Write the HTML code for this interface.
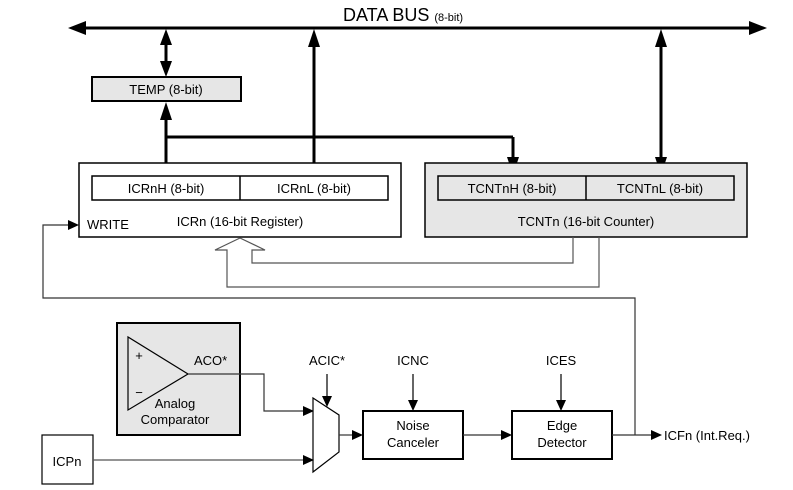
<!DOCTYPE html>
<html><head><meta charset="utf-8"><style>
html,body{margin:0;padding:0;background:#fff;}
svg{display:block;font-family:"Liberation Sans",sans-serif;}
</style></head><body>
<svg width="793" height="490" viewBox="0 0 793 490" xmlns="http://www.w3.org/2000/svg">
<defs>
<marker id="a" markerWidth="10" markerHeight="8" refX="10" refY="4" orient="auto" markerUnits="userSpaceOnUse"><path d="M0,0 L10,4 L0,8 Z" fill="#000"/></marker>
</defs>
<!-- data bus -->
<text x="343" y="21" font-size="18">DATA BUS <tspan font-size="11">(8-bit)</tspan></text>
<line x1="80" y1="28" x2="755" y2="28" stroke="#000" stroke-width="3"/>
<path d="M68,28 L86,21 L86,35 Z"/>
<path d="M767,28 L749,21 L749,35 Z"/>
<!-- TEMP double arrow -->
<line x1="166" y1="40" x2="166" y2="65" stroke="#000" stroke-width="3"/>
<path d="M166,29 L160,45 L172,45 Z"/>
<path d="M166,77 L160,61 L172,61 Z"/>
<rect x="92" y="77" width="149" height="24" fill="#e6e6e6" stroke="#000" stroke-width="2"/>
<text x="166" y="94" font-size="13" text-anchor="middle">TEMP (8-bit)</text>
<!-- ICRnH up to TEMP -->
<line x1="166" y1="176" x2="166" y2="115" stroke="#000" stroke-width="3"/>
<path d="M166,102 L160,120 L172,120 Z"/>
<line x1="166" y1="137" x2="513" y2="137" stroke="#000" stroke-width="3"/>
<line x1="513" y1="137" x2="513" y2="160" stroke="#000" stroke-width="3"/>
<path d="M513,175 L507,157 L519,157 Z"/>
<!-- ICRnL up to bus -->
<line x1="314" y1="176" x2="314" y2="45" stroke="#000" stroke-width="3"/>
<path d="M314,29 L308,47 L320,47 Z"/>
<!-- TCNTnL double -->
<line x1="661" y1="42" x2="661" y2="160" stroke="#000" stroke-width="3"/>
<path d="M661,29 L655,47 L667,47 Z"/>
<path d="M661,175 L655,157 L667,157 Z"/>
<!-- ICRn box -->
<rect x="79" y="163" width="322" height="74" fill="#fff" stroke="#000" stroke-width="1.5"/>
<rect x="92" y="176" width="296" height="24" fill="#fff" stroke="#000" stroke-width="1.5"/>
<line x1="240" y1="176" x2="240" y2="200" stroke="#000" stroke-width="1.5"/>
<text x="166" y="193" font-size="13" text-anchor="middle">ICRnH (8-bit)</text>
<text x="314" y="193" font-size="13" text-anchor="middle">ICRnL  (8-bit)</text>
<text x="87" y="229" font-size="13">WRITE</text>
<text x="240" y="226" font-size="13" text-anchor="middle">ICRn (16-bit Register)</text>
<!-- TCNTn box -->
<rect x="425" y="163" width="322" height="74" fill="#e6e6e6" stroke="#000" stroke-width="1.5"/>
<rect x="438" y="176" width="296" height="24" fill="#e6e6e6" stroke="#000" stroke-width="1.5"/>
<line x1="586" y1="176" x2="586" y2="200" stroke="#000" stroke-width="1.5"/>
<text x="512" y="193" font-size="13" text-anchor="middle">TCNTnH (8-bit)</text>
<text x="660" y="193" font-size="13" text-anchor="middle">TCNTnL  (8-bit)</text>
<text x="586" y="226" font-size="13" text-anchor="middle">TCNTn (16-bit Counter)</text>
<!-- hollow arrow -->
<path d="M573,237 L573,263 L252,263 L252,250 L265,250 L240,238 L215,250 L227,250 L227,287 L599,287 L599,237" fill="none" stroke="#555" stroke-width="1.2"/>
<!-- write feedback -->
<path d="M635,435 L635,298 L43,298 L43,225 L70,225" fill="none" stroke="#333" stroke-width="1.2"/>
<path d="M79,225 L68,220 L68,230 Z"/>
<!-- analog comparator -->
<rect x="117" y="323" width="123" height="112" fill="#e6e6e6" stroke="#000" stroke-width="2"/>
<path d="M128,337 L128,410 L188,374 Z" fill="#e6e6e6" stroke="#000" stroke-width="1.2"/>
<text x="139" y="360" font-size="13" text-anchor="middle">+</text>
<text x="139" y="397" font-size="13" text-anchor="middle">−</text>
<text x="194" y="365" font-size="13">ACO*</text>
<text x="175" y="408" font-size="13" text-anchor="middle">Analog</text>
<text x="175" y="424" font-size="13" text-anchor="middle">Comparator</text>
<path d="M188,374 L264,374 L264,411 L304,411" fill="none" stroke="#333" stroke-width="1.2"/>
<path d="M314,411 L303,406 L303,416 Z"/>
<!-- mux -->
<path d="M313,398 L339,415 L339,452 L313,472 Z" fill="#fff" stroke="#000" stroke-width="1.2"/>
<text x="327" y="365" font-size="13" text-anchor="middle">ACIC*</text>
<line x1="327" y1="374" x2="327" y2="398" stroke="#000" stroke-width="1.2"/>
<path d="M327,407 L322,396 L332,396 Z"/>
<!-- ICPn -->
<rect x="42" y="435" width="51" height="49" fill="#fff" stroke="#000" stroke-width="1.2"/>
<text x="67" y="466" font-size="13" text-anchor="middle">ICPn</text>
<line x1="93" y1="460" x2="304" y2="460" stroke="#555" stroke-width="1.2"/>
<path d="M314,460 L303,455 L303,465 Z"/>
<!-- mux out -->
<line x1="339" y1="435" x2="354" y2="435" stroke="#333" stroke-width="1.2"/>
<path d="M363,435 L352,430 L352,440 Z"/>
<!-- noise canceler -->
<rect x="363" y="411" width="100" height="48" fill="#fff" stroke="#000" stroke-width="2"/>
<text x="413" y="430" font-size="13" text-anchor="middle">Noise</text>
<text x="413" y="447" font-size="13" text-anchor="middle">Canceler</text>
<text x="413" y="365" font-size="13" text-anchor="middle">ICNC</text>
<line x1="413" y1="374" x2="413" y2="402" stroke="#000" stroke-width="1.2"/>
<path d="M413,411 L408,400 L418,400 Z"/>
<line x1="463" y1="435" x2="503" y2="435" stroke="#333" stroke-width="1.2"/>
<path d="M512,435 L501,430 L501,440 Z"/>
<!-- edge detector -->
<rect x="512" y="411" width="100" height="48" fill="#fff" stroke="#000" stroke-width="2"/>
<text x="562" y="430" font-size="13" text-anchor="middle">Edge</text>
<text x="562" y="447" font-size="13" text-anchor="middle">Detector</text>
<text x="561" y="365" font-size="13" text-anchor="middle">ICES</text>
<line x1="561" y1="374" x2="561" y2="402" stroke="#000" stroke-width="1.2"/>
<path d="M561,411 L556,400 L566,400 Z"/>
<line x1="612" y1="435" x2="652" y2="435" stroke="#333" stroke-width="1.2"/>
<path d="M662,435 L651,430 L651,440 Z"/>
<text x="664" y="440" font-size="13">ICFn (Int.Req.)</text>
</svg>
</body></html>
